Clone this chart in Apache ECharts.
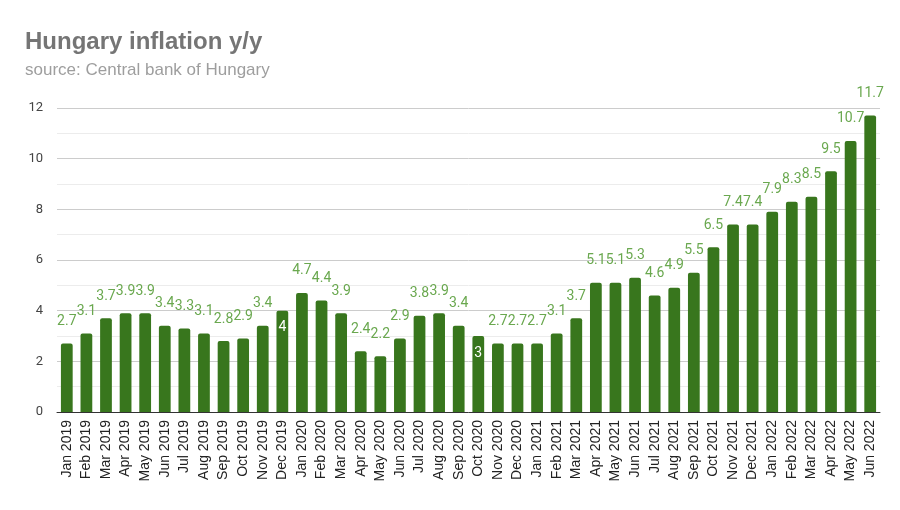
<!DOCTYPE html>
<html>
<head>
<meta charset="utf-8">
<script src="https://cdn.jsdelivr.net/npm/echarts@6/dist/echarts.min.js"></script>
<style>
  html, body { margin: 0; padding: 0; background: #fff; }
  #main { width: 900px; height: 510px; }
</style>
</head>
<body>
<div id="main"></div>
<script>
var months = ['Jan 2019','Feb 2019','Mar 2019','Apr 2019','May 2019','Jun 2019','Jul 2019','Aug 2019','Sep 2019','Oct 2019','Nov 2019','Dec 2019',
  'Jan 2020','Feb 2020','Mar 2020','Apr 2020','May 2020','Jun 2020','Jul 2020','Aug 2020','Sep 2020','Oct 2020','Nov 2020','Dec 2020',
  'Jan 2021','Feb 2021','Mar 2021','Apr 2021','May 2021','Jun 2021','Jul 2021','Aug 2021','Sep 2021','Oct 2021','Nov 2021','Dec 2021',
  'Jan 2022','Feb 2022','Mar 2022','Apr 2022','May 2022','Jun 2022'];
var inflation = [2.7,3.1,3.7,3.9,3.9,3.4,3.3,3.1,2.8,2.9,3.4,4,
  4.7,4.4,3.9,2.4,2.2,2.9,3.8,3.9,3.4,3,2.7,2.7,
  2.7,3.1,3.7,5.1,5.1,5.3,4.6,4.9,5.5,6.5,7.4,7.4,
  7.9,8.3,8.5,9.5,10.7,11.7];
// labels drawn inside the bar (white) in the original
var insideLabels = ['Dec 2019', 'Oct 2020'];

var barData = inflation.map(function (v, i) {
  var item = { value: v };
  if (insideLabels.indexOf(months[i]) >= 0) {
    item.label = { position: 'insideTop', color: '#fff', distance: 10 };
  }
  return item;
});

var chart = echarts.init(document.getElementById('main'));
chart.setOption({
  animation: false,
  title: {
    text: 'Hungary inflation y/y',
    subtext: 'source: Central bank of Hungary',
    left: 20,
    top: 25,
    itemGap: 8,
    textStyle: { color: '#757575', fontSize: 24, fontWeight: 'bold', fontFamily: 'Liberation Sans' },
    subtextStyle: { color: '#9e9e9e', fontSize: 17, fontFamily: 'Liberation Sans' }
  },
  grid: { left: 57, right: 20, top: 108, bottom: 98 },
  xAxis: {
    type: 'category',
    data: months,
    axisTick: { show: false },
    axisLine: { lineStyle: { color: '#333', width: 1 } },
    axisLabel: { rotate: 90, interval: 0, color: '#222', fontSize: 14, fontFamily: 'Liberation Sans', margin: 8 }
  },
  yAxis: {
    type: 'value',
    min: 0,
    max: 12,
    interval: 1,
    axisLine: { show: false },
    axisTick: { show: false },
    axisLabel: {
      color: '#444', fontSize: 13, fontFamily: 'Roboto', margin: 14,
      formatter: function (v) { return v % 2 === 0 ? v : ''; }
    },
    splitLine: { lineStyle: { color: ['#cccccc', '#ececec'] } }
  },
  series: [{
    type: 'bar',
    data: barData,
    barCategoryGap: '40%',
    itemStyle: { color: '#38761d', borderRadius: [2, 2, 0, 0] },
    label: {
      show: true,
      position: 'top',
      distance: 15,
      color: '#6aa84f',
      fontSize: 14,
      fontFamily: 'Roboto'
    }
  }]
});
</script>
</body>
</html>
